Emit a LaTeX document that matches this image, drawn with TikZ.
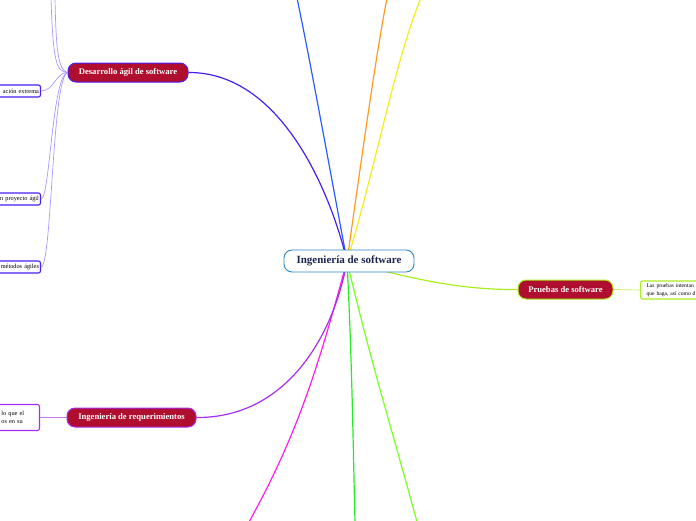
\documentclass[tikz,border=0pt]{standalone}
\usepackage{fontspec}
\setmainfont{Liberation Serif}
\definecolor{crim}{HTML}{B00E2E}
\definecolor{cblue}{HTML}{2E86C8}
\definecolor{navy}{HTML}{1B2650}
\definecolor{dev}{HTML}{4A1EF0}
\definecolor{devl}{HTML}{A898FF}
\definecolor{req}{HTML}{A62EF0}
\definecolor{reql}{HTML}{C878F4}
\definecolor{pru}{HTML}{A8EE20}
\definecolor{prul}{HTML}{BDF25A}
\definecolor{lblue}{HTML}{2A5CFF}
\definecolor{lorange}{HTML}{FF9A1E}
\definecolor{lyellow}{HTML}{F2F01A}
\definecolor{lmag}{HTML}{FF1EE8}
\definecolor{lgreen}{HTML}{22EE22}
\definecolor{llime}{HTML}{7CFF22}
\tikzset{
  main/.style={draw=cblue,line width=0.9pt,fill=white,rounded corners=8pt,minimum width=130pt,minimum height=22pt,inner sep=0pt,font=\fontsize{11}{12}\selectfont\bfseries,text=navy},
  topic/.style={fill=crim,line width=1pt,rounded corners=8pt,minimum height=19pt,inner sep=0pt,font=\fontsize{8.6}{10}\selectfont\bfseries,text=white},
  leaf/.style={fill=white,line width=1.1pt,rounded corners=2pt,inner sep=0pt,font=\fontsize{6.3}{7.5}\selectfont,align=left,anchor=east},
  con/.style={line width=1.2pt},
  sub/.style={line width=0.7pt}
}
\begin{document}
\begin{tikzpicture}[x=1pt,y=-1pt]
\useasboundingbox (0,0) rectangle (696,520);
\clip (0,0) rectangle (696,520);
% off-page ends
\coordinate (tb) at (297,-2);
\coordinate (to) at (387,-2);
\coordinate (ty) at (421,-2);
\coordinate (bm) at (249,522);
\coordinate (bg) at (355,522);
\coordinate (bl) at (417,522);
\coordinate (ca) at (347,261);
\coordinate (up1) at (51,-2);
\coordinate (up2) at (55,-2);
% connectors from centre
\draw[con,lblue] (ca) .. controls (330,170) and (310,60) .. (tb);
\draw[con,lorange] (ca) .. controls (360,170) and (375,60) .. (to);
\draw[con,lyellow] (ca) .. controls (375,170) and (395,60) .. (ty);
\draw[con,lmag] (ca) .. controls (320,360) and (300,430) .. (bm);
\draw[con,lgreen] (ca) .. controls (352,360) and (353,440) .. (bg);
\draw[con,llime] (ca) .. controls (370,360) and (395,440) .. (bl);
% nodes
\node[topic,draw=dev,minimum width=120pt] (dev) at (128,72.5) {Desarrollo ágil de software};
\node[topic,draw=req,minimum width=129pt] (req) at (131.5,417.5) {Ingeniería de requerimientos};
\node[topic,draw=pru,minimum width=95pt] (pru) at (565.5,289.5) {Pruebas de software};
\draw[con,dev] (dev.east) .. controls (280,72) and (330,190) .. (ca);
\draw[con,req] (req.east) .. controls (290,418) and (335,330) .. (ca);
\draw[con,pru] (ca) .. controls (420,282) and (470,290) .. (pru.west);
\node[main] (c) at (349,261) {Ingeniería de software};
% leaves of Desarrollo
\node[leaf,draw=dev,minimum width=60pt,minimum height=12pt,text width=57pt,align=right] (d1) at (41,91) {ación extrema};
\node[leaf,draw=dev,minimum width=60pt,minimum height=12pt,text width=57pt,align=right] (d2) at (41,199) {n proyecto ágil};
\node[leaf,draw=dev,minimum width=60pt,minimum height=12pt,text width=57pt,align=right] (d3) at (41,267) {métodos ágiles};
\draw[sub,devl] (dev.west) .. controls (56,72) and (53,60) .. (up1);
\draw[sub,devl] (dev.west) .. controls (58,70) and (56,50) .. (up2);
\draw[sub,devl] (dev.west) .. controls (56,72) and (54,91) .. (d1.east);
\draw[sub,devl] (dev.west) .. controls (52,76) and (50,199) .. (d2.east);
\draw[sub,devl] (dev.west) .. controls (52,78) and (52,267) .. (d3.east);
% leaf of Requerimientos
\node[leaf,draw=req,minimum width=60pt,minimum height=26pt,text width=58pt] (r1) at (40,417.5) {\hspace*{21pt}lo que el\\\hspace*{21pt}os en su};
\draw[sub,reql] (req.west) -- (r1.east);
% leaf of Pruebas
\node[leaf,draw=pru,anchor=west,minimum width=80pt,minimum height=18pt,text width=76pt,font=\fontsize{5.6}{7.5}\selectfont] (p1) at (640,290) {\hspace*{4pt}Las pruebas intentan\\\hspace*{4pt}que haga, así como d};
\draw[sub,prul] (pru.east) -- (p1.west);
\end{tikzpicture}
\end{document}
